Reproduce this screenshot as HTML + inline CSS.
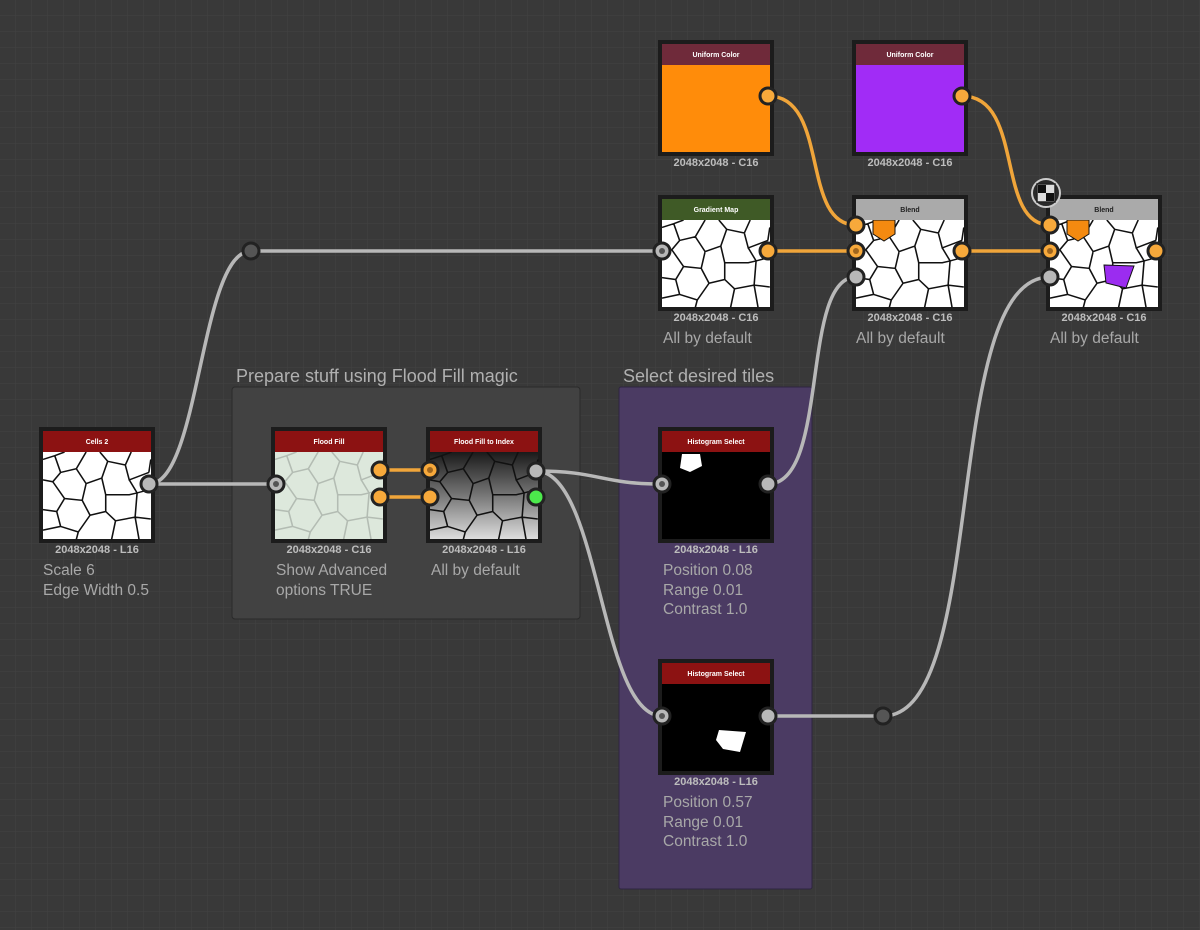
<!DOCTYPE html>
<html><head><meta charset="utf-8"><style>
html,body{margin:0;padding:0;width:1200px;height:930px;overflow:hidden;background:#3a3a3a}
svg{display:block}
text{font-family:"Liberation Sans",sans-serif}
.hd{font-size:7px;font-weight:bold;fill:#fff;text-anchor:middle}
.res{font-size:11px;font-weight:bold;fill:#bdbdbd;text-anchor:middle}
.lb{font-size:15.5px;fill:#a8a8a8}
.ft{font-size:18px;fill:#b0b0b0}
</style></head><body>
<svg width="1200" height="930" viewBox="0 0 1200 930" xmlns="http://www.w3.org/2000/svg">
<defs>
<pattern id="g" width="16" height="16" patternUnits="userSpaceOnUse">
<rect width="16" height="16" fill="#393939"/>
<path d="M16 0V16M0 16H16" stroke="#424242" stroke-width="1"/>
</pattern>
<g id="vor" fill="none" stroke="#111" stroke-width="1.6">
<path d="M0 8 L12 4 L22 0 M12 4 L18 22 L10 32 L0 30 M18 22 L34 18 L44 0 M34 18 L44 34 L60 28 L66 10 L58 0 M66 10 L84 14 L90 0 M84 14 L88 30 L108 22 M108 22 L110 8 M88 30 L96 44 L110 40 M60 28 L64 46 L88 46 L96 44 M44 34 L40 52 L22 50 L10 32 M22 50 L14 64 L0 62 M40 52 L48 68 L64 64 L64 46 M64 64 L74 74 L94 70 L96 44 M94 70 L110 72 M14 64 L18 80 L0 84 M18 80 L36 86 L48 68 M36 86 L34 94 M74 74 L70 94 M94 70 L98 94"/>
</g>
<linearGradient id="gi" x1="0" y1="0" x2="0" y2="1"><stop offset="0" stop-color="#1a1a1a"/><stop offset="0.5" stop-color="#777"/><stop offset="1" stop-color="#ddd"/></linearGradient>
</defs>
<rect width="1200" height="930" fill="url(#g)"/>

<rect x="232" y="387" width="348" height="232" rx="3" fill="#424242" stroke="#2a2a2a"/>
<text x="236" y="382" class="ft">Prepare stuff using Flood Fill magic</text>
<rect x="619" y="387" width="193" height="502" rx="2" fill="#4b3b63" stroke="#2e2540"/>
<text x="623" y="382" class="ft">Select desired tiles</text>

<g fill="none" stroke-width="3.5" stroke-linecap="round">
<g stroke="#b8b8b8">
<path d="M149 484 H276"/>
<path d="M149 484 C200 484 200 251 251 251 H662"/>
<path d="M536 471 C600 471 600 484 662 484"/>
<path d="M536 471 C600 471 600 716 662 716"/>
<path d="M768 484 C830 484 800 277 856 277"/>
<path d="M768 716 H883 C990 716 940 277 1050 277"/>
</g>
<g stroke="#f0a53a">
<path d="M380 470 H430 M380 497 H430"/>
<path d="M768 251 H856 M962 251 H1050"/>
<path d="M768 96 C830 96 800 225 856 225"/>
<path d="M962 96 C1025 96 995 225 1050 225"/>
</g>
</g>

<g>
<rect x="39" y="427" width="116" height="116" fill="#1c1c1c"/>
<rect x="43" y="452" width="108" height="87" fill="#fff"/>
<g transform="translate(43,452) scale(0.98,0.93)"><use href="#vor"/></g>
<rect x="43" y="431" width="108" height="21" fill="#8c1212"/><text x="97" y="444" class="hd">Cells 2</text>
<text x="97" y="553" class="res">2048x2048 - L16</text>
<text x="43" y="575" class="lb">Scale 6</text><text x="43" y="595" class="lb">Edge Width 0.5</text>

<rect x="271" y="427" width="116" height="116" fill="#1c1c1c"/>
<rect x="275" y="452" width="108" height="87" fill="#dde8dc"/>
<g transform="translate(275,452) scale(0.98,0.93)"><use href="#vor" style="opacity:.2"/></g>
<rect x="275" y="431" width="108" height="21" fill="#8c1212"/><text x="329" y="444" class="hd">Flood Fill</text>
<text x="329" y="553" class="res">2048x2048 - C16</text>
<text x="276" y="575" class="lb">Show Advanced</text><text x="276" y="595" class="lb">options TRUE</text>

<rect x="426" y="427" width="116" height="116" fill="#1c1c1c"/>
<rect x="430" y="452" width="108" height="87" fill="url(#gi)"/>
<g transform="translate(430,452) scale(0.98,0.93)"><use href="#vor"/></g>
<rect x="430" y="431" width="108" height="21" fill="#8c1212"/><text x="484" y="444" class="hd">Flood Fill to Index</text>
<text x="484" y="553" class="res">2048x2048 - L16</text>
<text x="431" y="575" class="lb">All by default</text>

<rect x="658" y="427" width="116" height="116" fill="#1c1c1c"/>
<rect x="662" y="452" width="108" height="87" fill="#000"/>
<polygon points="682,454 700,454 702,466 690,472 680,468" fill="#fff"/>
<rect x="662" y="431" width="108" height="21" fill="#8c1212"/><text x="716" y="444" class="hd">Histogram Select</text>
<text x="716" y="553" class="res">2048x2048 - L16</text>
<text x="663" y="575" class="lb">Position 0.08</text><text x="663" y="595" class="lb">Range 0.01</text><text x="663" y="614" class="lb">Contrast 1.0</text>

<rect x="658" y="659" width="116" height="116" fill="#1c1c1c"/>
<rect x="662" y="684" width="108" height="87" fill="#000"/>
<polygon points="719,730 746,732 740,752 723,749 716,740" fill="#fff"/>
<rect x="662" y="663" width="108" height="21" fill="#8c1212"/><text x="716" y="676" class="hd">Histogram Select</text>
<text x="716" y="785" class="res">2048x2048 - L16</text>
<text x="663" y="807" class="lb">Position 0.57</text><text x="663" y="827" class="lb">Range 0.01</text><text x="663" y="846" class="lb">Contrast 1.0</text>

<rect x="658" y="40" width="116" height="116" fill="#1c1c1c"/>
<rect x="662" y="65" width="108" height="87" fill="#ff8c0a"/>
<rect x="662" y="44" width="108" height="21" fill="#6f2a3a"/><text x="716" y="57" class="hd">Uniform Color</text>
<text x="716" y="166" class="res">2048x2048 - C16</text>

<rect x="852" y="40" width="116" height="116" fill="#1c1c1c"/>
<rect x="856" y="65" width="108" height="87" fill="#a12cf6"/>
<rect x="856" y="44" width="108" height="21" fill="#6f2a3a"/><text x="910" y="57" class="hd">Uniform Color</text>
<text x="910" y="166" class="res">2048x2048 - C16</text>

<rect x="658" y="195" width="116" height="116" fill="#1c1c1c"/>
<rect x="662" y="220" width="108" height="87" fill="#fff"/>
<g transform="translate(662,220) scale(0.98,0.93)"><use href="#vor"/></g>
<rect x="662" y="199" width="108" height="21" fill="#3f5a26"/><text x="716" y="212" class="hd">Gradient Map</text>
<text x="716" y="321" class="res">2048x2048 - C16</text>
<text x="663" y="343" class="lb">All by default</text>

<rect x="852" y="195" width="116" height="116" fill="#1c1c1c"/>
<rect x="856" y="220" width="108" height="87" fill="#fff"/>
<g transform="translate(856,220) scale(0.98,0.93)"><use href="#vor"/></g>
<polygon points="873,220 895,220 895,234 884,241 873,234" fill="#f48a10" stroke="#111"/>
<rect x="856" y="199" width="108" height="21" fill="#aaa"/><text x="910" y="212" class="hd" style="fill:#222">Blend</text>
<text x="910" y="321" class="res">2048x2048 - C16</text>
<text x="856" y="343" class="lb">All by default</text>

<rect x="1046" y="195" width="116" height="116" fill="#1c1c1c"/>
<rect x="1050" y="220" width="108" height="87" fill="#fff"/>
<g transform="translate(1050,220) scale(0.98,0.93)"><use href="#vor"/></g>
<polygon points="1067,220 1089,220 1089,234 1078,241 1067,234" fill="#f48a10" stroke="#111"/>
<polygon points="1104,265 1134,266 1126,288 1106,283" fill="#9b2cf0" stroke="#111"/>
<rect x="1050" y="199" width="108" height="21" fill="#aaa"/><text x="1104" y="212" class="hd" style="fill:#222">Blend</text>
<text x="1104" y="321" class="res">2048x2048 - C16</text>
<text x="1050" y="343" class="lb">All by default</text>

<circle cx="1046" cy="193" r="14" fill="#2a2a2a" stroke="#ccc" stroke-width="2"/>
<rect x="1037" y="184" width="18" height="18" fill="#ddd" stroke="#222" stroke-width="1.5"/>
<rect x="1038" y="185" width="8" height="8" fill="#111"/><rect x="1046" y="193" width="8" height="8" fill="#111"/>
</g>

<g stroke="#222" stroke-width="3">
<g fill="#b8b8b8">
<circle cx="149" cy="484" r="8"/><circle cx="276" cy="484" r="8"/>
<circle cx="536" cy="471" r="8"/><circle cx="662" cy="484" r="8"/><circle cx="768" cy="484" r="8"/>
<circle cx="662" cy="716" r="8"/><circle cx="768" cy="716" r="8"/>
<circle cx="662" cy="251" r="8"/><circle cx="856" cy="277" r="8"/><circle cx="1050" cy="277" r="8"/>
</g>
<circle cx="251" cy="251" r="8" fill="#555"/><circle cx="883" cy="716" r="8" fill="#555"/>
<circle cx="536" cy="497" r="8" fill="#4cea4c"/>
<g fill="#f7a93b">
<circle cx="380" cy="470" r="8"/><circle cx="380" cy="497" r="8"/><circle cx="430" cy="470" r="8"/><circle cx="430" cy="497" r="8"/>
<circle cx="768" cy="96" r="8"/><circle cx="962" cy="96" r="8"/>
<circle cx="768" cy="251" r="8"/><circle cx="856" cy="251" r="8"/><circle cx="856" cy="225" r="8"/>
<circle cx="962" cy="251" r="8"/><circle cx="1050" cy="251" r="8"/><circle cx="1050" cy="225" r="8"/><circle cx="1156" cy="251" r="8"/>
</g>
</g>
<g fill="#555">
<circle cx="276" cy="484" r="3"/><circle cx="662" cy="484" r="3"/><circle cx="662" cy="716" r="3"/><circle cx="662" cy="251" r="3"/>
</g>
<g fill="#a0661e"><circle cx="430" cy="470" r="3"/><circle cx="856" cy="251" r="3"/><circle cx="1050" cy="251" r="3"/></g>
</svg>
</body></html>
